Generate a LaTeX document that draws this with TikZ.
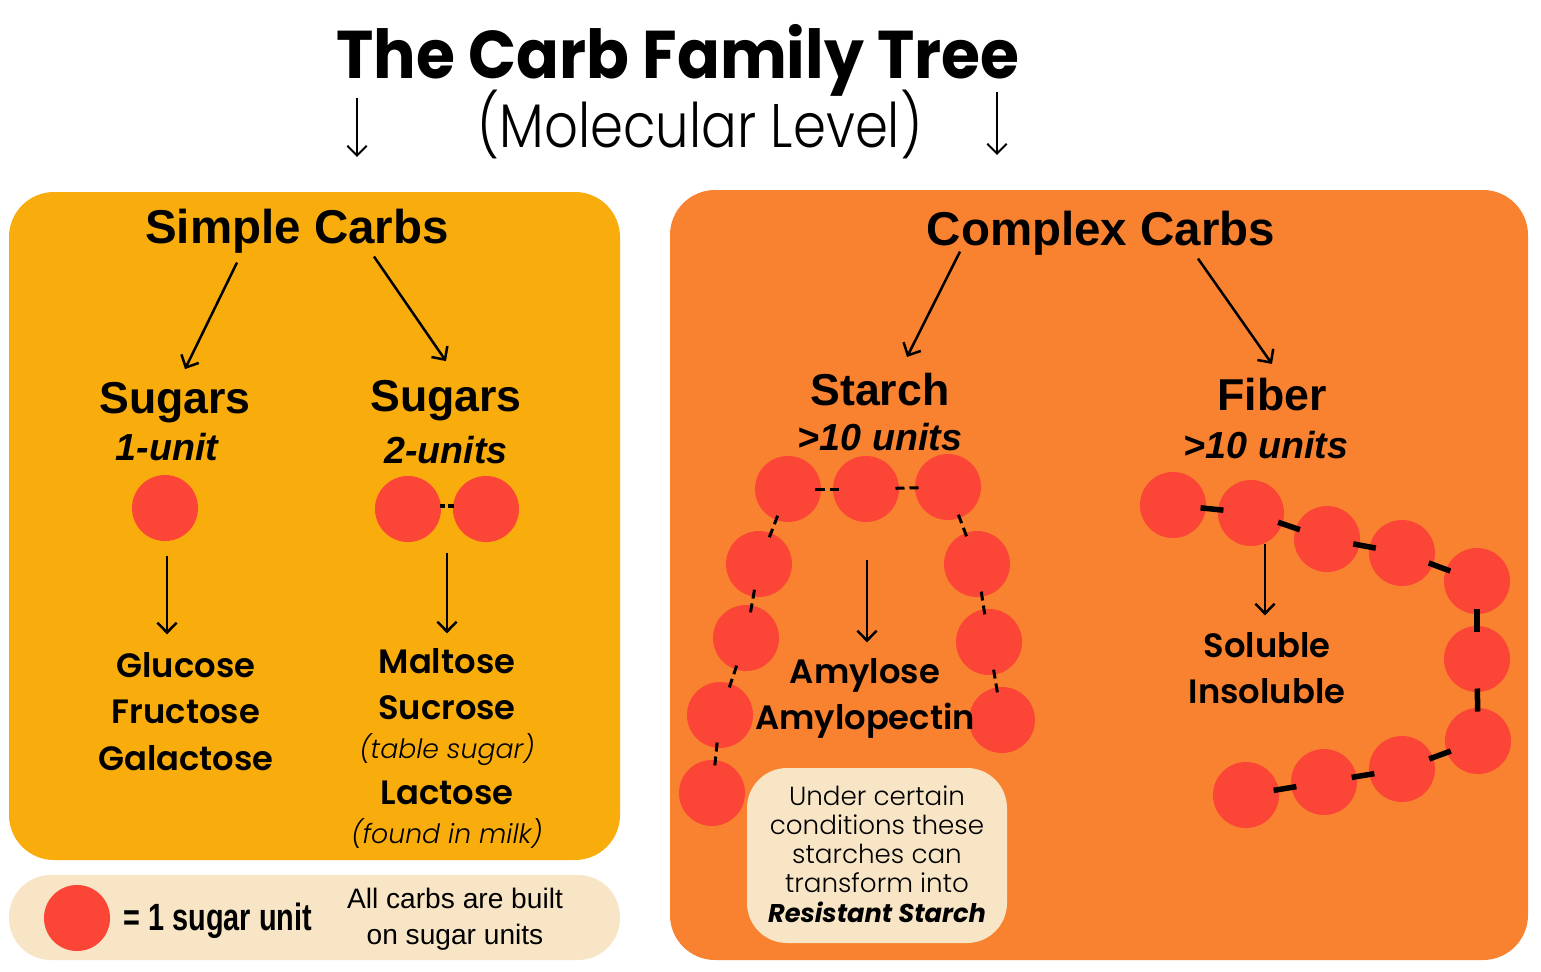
\documentclass[tikz,border=0pt]{standalone}
\usepackage{fontspec}
\usetikzlibrary{calc,arrows.meta}
\newfontfamily\popfont{Poppins}[BoldFont={* SemiBold},BoldItalicFont={* Bold Italic}]
\newfontfamily\titlefont{Poppins}[FakeStretch=0.935]
\newfontfamily\thinfont{Poppins}[UprightFont={* Light},ItalicFont={* Light Italic},FakeStretch=0.86]
\newfontfamily\lightfont{Poppins}[UprightFont={* Light},ItalicFont={* Light Italic}]
\newfontfamily\headfont{Liberation Sans}
\newfontfamily\narrowfont{Liberation Sans}[FakeStretch=0.76]
\definecolor{simplebg}{RGB}{249,173,12}
\definecolor{complexbg}{RGB}{249,130,48}
\definecolor{creambg}{RGB}{248,229,197}
\definecolor{unitred}{RGB}{251,69,54}

\begin{document}
\begin{tikzpicture}[x=0.01cm,y=-0.01cm,
    txt/.style={inner sep=0pt,anchor=base},
    bigtitle/.style={txt,font=\titlefont\bfseries\fontsize{19.2}{22}\selectfont},
    subtitle/.style={txt,font=\thinfont\fontsize{17.5}{20}\selectfont},
    head/.style={txt,font=\headfont\bfseries\fontsize{13.5}{16}\selectfont},
    kind/.style={txt,font=\headfont\bfseries\fontsize{12.7}{15}\selectfont},
    count/.style={txt,font=\headfont\bfseries\itshape\fontsize{10.7}{13}\selectfont},
    sugar/.style={txt,font=\popfont\bfseries\fontsize{9.6}{11}\selectfont},
    note/.style={txt,font=\lightfont\itshape\fontsize{7.6}{9}\selectfont},
    small/.style={txt,font=\lightfont\fontsize{7.45}{9}\selectfont},
    unit/.style={circle,fill=unitred,minimum size=0.66cm,inner sep=0pt},
    arr/.style={-{Straight Barb[length=2.8pt,width=5.5pt]},line width=0.025cm},
    thinarr/.style={-{Straight Barb[length=2.8pt,width=5.5pt]},line width=0.02cm},
    bond/.style={line width=0.03cm,dash pattern=on 0.09cm off 0.05cm},
    fbond/.style={line width=0.055cm}]
  \useasboundingbox[fill=white] (0,0) rectangle (1541,972);

  % panels
  \fill[simplebg,rounded corners=0.45cm] (9,192) rectangle (620,860);
  \fill[complexbg,rounded corners=0.45cm] (670,190) rectangle (1528,960);
  \fill[creambg,rounded corners=0.42cm] (9,875) rectangle (620,960);
  \fill[creambg,rounded corners=0.4cm] (747,768) rectangle (1007,943);

  % title
  \node[bigtitle] (title) at (678,78) {The Carb Family Tree};
  \node[subtitle] (sub) at (700,147) {(Molecular Level)};
  \coordinate (la1) at (357,98); \coordinate (la2) at (357,157);
  \coordinate (ra1) at (997,92); \coordinate (ra2) at (997,155);
  \draw[thinarr] (la1) -- (la2);
  \draw[thinarr] (ra1) -- (ra2);

  % simple carbs
  \node[head] (simple) at (297,243) {Simple Carbs};
  \node[kind] (sug1) at (175,413) {Sugars};
  \node[kind] (sug2) at (446,411) {Sugars};
  \node[count] (u1) at (167,460) {1-unit};
  \node[count] (u2) at (446,463) {2-units};
  \draw[arr] ($(simple.south)+(-60,9)$) -- ($(sug1.north)+(10,-12)$);
  \draw[arr] ($(simple.south)+(77,3)$) -- ($(sug2.north)+(0,-18)$);
  \node[unit] (s1) at (165,508) {};
  \node[unit] (d1) at (408,509) {};
  \node[unit] (d2) at (486,509) {};
  \draw[line width=0.035cm,dash pattern=on 0.055cm off 0.025cm]
    ($(d1)!.5!(d2)!0.07cm!(d1)+(0,-3)$) -- ($(d1)!.5!(d2)!0.07cm!(d2)+(0,-3)$);
  \foreach \t [count=\i] in {Glucose,Fructose,Galactose}
    \node[sugar] (mono\i) at (186,{677+46.5*(\i-1)}) {\t};
  \node[sugar] (malt) at (447,673) {Maltose};
  \node[sugar] (sucr) at (447,719) {Sucrose};
  \node[note] (table) at (447,758) {(table sugar)};
  \node[sugar] (lact) at (447,804) {Lactose};
  \node[note] (milk) at (447,843) {(found in milk)};
  \draw[arr] ($(s1.south)+(2,14)$) -- ($(mono1.north)+(-19,-17)$);
  \draw[arr] ($(d1.south)!.5!(d2.south)+(0,10)$) -- ($(malt.north)+(0,-14)$);

  % legend
  \node[unit] (key) at (77,918) {};
  \node[txt,anchor=base west,font=\narrowfont\bfseries\fontsize{10.8}{13}\selectfont]
    (keytxt) at (123,930) {= 1 sugar unit};
  \node[txt,font=\headfont\fontsize{8}{10}\selectfont] (all1) at (455,908) {All carbs are built};
  \node[txt,font=\headfont\fontsize{8}{10}\selectfont] (all2) at (455,944) {on sugar units};

  % complex carbs
  \node[head] (complex) at (1101,245) {Complex Carbs};
  \node[kind] (starch) at (880,405) {Starch};
  \node[kind] (fiber) at (1272,410) {Fiber};
  \node[count] (u3) at (880,450) {>10 units};
  \node[count] (u4) at (1266,458) {>10 units};
  \draw[arr] ($(complex.south)+(-141,-4)$) -- ($(starch.north)+(27,-15)$);
  \draw[arr] ($(complex.south)+(97,3)$) -- ($(fiber.north)+(0,-13)$);

  % starch chain
  \foreach \p [count=\i] in {(712,793),(720,715),(746,638),(759,564),(788,489),
                             (866,489),(948,487),(977,564),(989,642),(1002,720)}
    \node[unit] (c\i) at \p {};
  \foreach \a/\b in {c1/c2,c2/c3,c3/c4,c4/c5,c5/c6,c6/c7,c7/c8,c8/c9,c9/c10}
    \draw[bond] ($(\a)!.5!(\b)!0.115cm!(\a)$) -- ($(\a)!.5!(\b)!0.115cm!(\b)$);
  \node[sugar] (amy1) at (865,683) {Amylose};
  \node[sugar] (amy2) at (865,729) {Amylopectin};
  \draw[arr] ($(amy1.north)+(2,-97)$) -- ($(amy1.north)+(2,-15)$);

  % resistant starch note
  \foreach \t [count=\i] in {Under certain,conditions these,starches can,transform into}
    \node[small] (rs\i) at (877,{805+29.3*(\i-1)}) {\t};
  \node[txt,font=\popfont\bfseries\itshape\fontsize{7.3}{9}\selectfont] (rs5) at (877,922) {Resistant Starch};

  % fiber chain
  \foreach \p [count=\i] in {(1173,505),(1251,513),(1327,539),(1402,553),(1477,581),
                             (1477,659),(1478,741),(1402,769),(1324,782),(1246,795)}
    \node[unit] (f\i) at \p {};
  \foreach \a/\b in {f1/f2,f2/f3,f3/f4,f4/f5,f5/f6,f6/f7,f7/f8,f8/f9,f9/f10}
    \draw[fbond] ($(\a)!.5!(\b)!0.115cm!(\a)$) -- ($(\a)!.5!(\b)!0.115cm!(\b)$);
  \node[sugar] (sol) at (1267,657) {Soluble};
  \node[sugar] (insol) at (1267,703) {Insoluble};
  \draw[arr] ($(f2.south)+(14,-3)$) -- ($(sol.north)+(-2,-16)$);
\end{tikzpicture}
\end{document}
